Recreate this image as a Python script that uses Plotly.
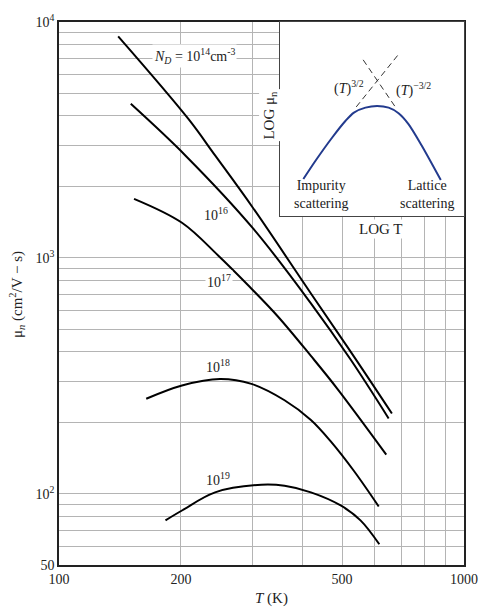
import numpy as np
import plotly.graph_objects as go

# ---------------- data ----------------
T_1e14 = [140.0, 208.9, 242.9, 301.4, 418.8, 535.0, 663.7]
mu_1e14 = [8690, 3873, 2720, 1629, 707.4, 382.1, 219.3]

T_1e16 = [150.4, 205.1, 301.4, 418.8, 524.8, 651.5]
mu_1e16 = [4500, 2720, 1335, 642.4, 371.2, 209.0]

T_1e17 = [153.2, 201.2, 247.5, 293.1, 347.1, 418.8, 486.8, 642.7]
mu_1e17 = [1781, 1410, 1022, 766.1, 565.2, 384.6, 279.0, 146.9]

T_1e18 = [164.2, 201.2, 249.8, 298.6, 360.5, 418.8, 468.8, 535.0, 615.8]
mu_1e18 = [253.3, 288.3, 307.1, 292.8, 249.5, 205.8, 167.0, 125.1, 88.5]

T_1e19 = [183.2, 201.2, 242.9, 315.9, 360.5, 418.8, 496.0, 555.2, 617.9]
mu_1e19 = [77.3, 85.1, 101.6, 109.4, 108.3, 101.6, 89.4, 77.3, 61.2]

curve_labels = ["10<sup>14</sup>", "10<sup>16</sup>", "10<sup>17</sup>", "10<sup>18</sup>", "10<sup>19</sup>"]

x_ticks = [100, 200, 500, 1000]
x_ticktext = ["100", "200", "500", "1000"]
x_minor = [300, 400, 600, 700, 800, 900]

y_ticks = [50, 100, 1000, 10000]
y_ticktext = ["50", "10<sup>2</sup>", "10<sup>3</sup>", "10<sup>4</sup>"]
y_minor = [60, 70, 80, 90, 200, 300, 400, 500, 600, 700, 800, 900,
           2000, 3000, 4000, 5000, 6000, 7000, 8000, 9000]

# inset (schematic, arbitrary LOG units)
inset_logT = [24.0, 36.6, 53.3, 66.6, 75.0, 86.6, 98.3, 110.0, 120.0, 130.0, 143.3, 162.6]
inset_logmu = [37.7, 56.7, 80.0, 96.7, 105.0, 110.0, 111.7, 110.0, 104.4, 93.4, 71.7, 36.7]
inset_imp_T = [77.3, 120.0]
inset_imp_mu = [110.7, 164.0]
inset_lat_T = [84.3, 118.3]
inset_lat_mu = [158.4, 108.4]

FONT = "Liberation Serif"
GRID = "#b4b4b4"

fig = go.Figure()

for T, mu in [(T_1e14, mu_1e14), (T_1e16, mu_1e16), (T_1e17, mu_1e17),
              (T_1e18, mu_1e18), (T_1e19, mu_1e19)]:
    fig.add_trace(go.Scatter(x=T, y=mu, mode="lines",
                             line=dict(color="black", width=2, shape="spline", smoothing=1.0),
                             showlegend=False, hoverinfo="skip",
                             xaxis="x", yaxis="y"))

fig.add_trace(go.Scatter(x=inset_logT, y=inset_logmu, mode="lines",
                         line=dict(color="#233b8e", width=2, shape="spline", smoothing=0.8),
                         showlegend=False, xaxis="x2", yaxis="y2"))
fig.add_trace(go.Scatter(x=inset_imp_T, y=inset_imp_mu, mode="lines",
                         line=dict(color="#333", width=1, dash="6px,4px"),
                         showlegend=False, xaxis="x2", yaxis="y2"))
fig.add_trace(go.Scatter(x=inset_lat_T, y=inset_lat_mu, mode="lines",
                         line=dict(color="#333", width=1, dash="6px,4px"),
                         showlegend=False, xaxis="x2", yaxis="y2"))

tickfont = dict(family=FONT, size=14, color="#222")

fig.update_layout(
    width=490, height=615,
    margin=dict(l=59, r=22, t=15, b=50),
    paper_bgcolor="white", plot_bgcolor="white",
    font=dict(family=FONT, size=14, color="#222"),
    xaxis=dict(type="log", range=[2, 3], domain=[0, 1],
               tickvals=x_ticks, ticktext=x_ticktext, ticks="",
               tickfont=tickfont, showgrid=True, gridcolor=GRID, gridwidth=1,
               minor=dict(tickvals=x_minor, showgrid=True, gridcolor=GRID, gridwidth=1, ticks=""),
               showline=True, linecolor="#222", linewidth=1.5, mirror=True, zeroline=False),
    yaxis=dict(type="log", range=[np.log10(50), 4], domain=[0, 1],
               tickvals=y_ticks, ticktext=y_ticktext, ticks="",
               tickfont=tickfont, showgrid=True, gridcolor=GRID, gridwidth=1,
               minor=dict(tickvals=y_minor, showgrid=True, gridcolor=GRID, gridwidth=1, ticks=""),
               showline=True, linecolor="#222", linewidth=1.5, mirror=True, zeroline=False),
    xaxis2=dict(domain=[0.5446, 1.0], range=[0, 186], anchor="y2",
                showgrid=False, zeroline=False, showticklabels=False, ticks="",
                showline=True, linecolor="#444", linewidth=1, mirror=True),
    yaxis2=dict(domain=[0.6422, 1.0], range=[0, 196.7], anchor="x2",
                showgrid=False, zeroline=False, showticklabels=False, ticks="",
                showline=True, linecolor="#444", linewidth=1, mirror=True),
)

C = dict(xanchor="center", yanchor="middle", showarrow=False)
ann = []
ann.append(dict(x=0.3347, y=0.9375, xref="paper", yref="paper",
                text="<i>N</i><sub><i>D</i></sub> = 10<sup>14</sup>cm<sup>-3</sup>",
                bgcolor="white", font=dict(size=14), **C))
for txt, px, py, bg in [(curve_labels[1], 0.3886, 0.6472, None),
                        (curve_labels[2], 0.3942, 0.5237, "white"),
                        (curve_labels[3], 0.3917, 0.3660, None),
                        (curve_labels[4], 0.3917, 0.1577, None)]:
    d = dict(x=px, y=py, xref="paper", yref="paper", text=txt,
             font=dict(size=14), **C)
    if bg:
        d["bgcolor"] = bg
    ann.append(d)

ann.append(dict(x=0.524, y=-0.0618, xref="paper", yref="paper",
                text="<i>T</i> (K)", font=dict(size=15), **C))
ann.append(dict(x=-0.105, y=0.498, xref="paper", yref="paper", textangle=-90,
                text="μ<sub><i>n</i></sub> (cm<sup>2</sup>/V − s)",
                font=dict(size=15), **C))

ann.append(dict(x=70, y=130, xref="x2", yref="y2", text="(<i>T</i>)<sup>3/2</sup>",
                font=dict(size=14), **C))
ann.append(dict(x=135, y=128.5, xref="x2", yref="y2", text="(<i>T</i>)<sup>−3/2</sup>",
                font=dict(size=14), **C))
ann.append(dict(x=42, y=22.5, xref="x2", yref="y2", text="Impurity<br>scattering",
                font=dict(size=14), **C))
ann.append(dict(x=148.5, y=22.5, xref="x2", yref="y2", text="Lattice<br>scattering",
                font=dict(size=14), **C))
ann.append(dict(x=0.7934, y=0.618, xref="paper", yref="paper", text="LOG T",
                bgcolor="white", font=dict(size=15), **C))
ann.append(dict(x=0.520, y=0.8287, xref="paper", yref="paper", text="LOG μ<sub>n</sub>",
                textangle=-90, bgcolor="white", font=dict(size=15), **C))

fig.update_layout(annotations=ann)

fig.write_html("out.html", config={"displayModeBar": False},
               post_script="document.body.style.margin='0';document.body.style.overflow='hidden';")
